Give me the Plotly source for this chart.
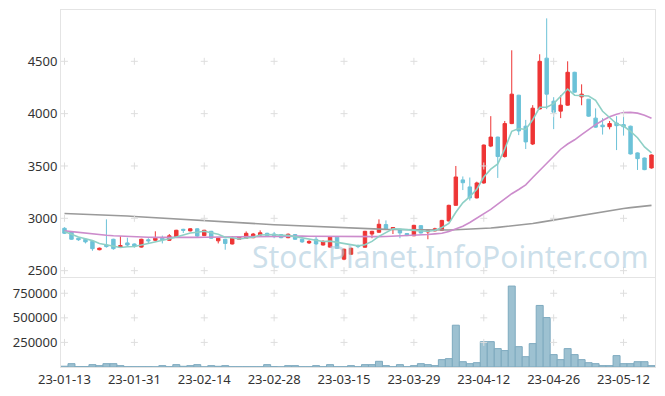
import plotly.graph_objects as go
from plotly.subplots import make_subplots

dates = [
    "23-01-13", "23-01-16", "23-01-17", "23-01-18", "23-01-19", "23-01-20", "23-01-25", "23-01-26", "23-01-27", "23-01-30",
    "23-01-31", "23-02-01", "23-02-02", "23-02-03", "23-02-06", "23-02-07", "23-02-08", "23-02-09", "23-02-10", "23-02-13",
    "23-02-14", "23-02-15", "23-02-16", "23-02-17", "23-02-20", "23-02-21", "23-02-22", "23-02-23", "23-02-24", "23-02-27",
    "23-02-28", "23-03-02", "23-03-03", "23-03-06", "23-03-07", "23-03-08", "23-03-09", "23-03-10", "23-03-13", "23-03-14",
    "23-03-15", "23-03-16", "23-03-17", "23-03-20", "23-03-21", "23-03-22", "23-03-23", "23-03-24", "23-03-27", "23-03-28",
    "23-03-29", "23-03-30", "23-03-31", "23-04-03", "23-04-04", "23-04-05", "23-04-06", "23-04-07", "23-04-10", "23-04-11",
    "23-04-12", "23-04-13", "23-04-14", "23-04-17", "23-04-18", "23-04-19", "23-04-20", "23-04-21", "23-04-24", "23-04-25",
    "23-04-26", "23-04-27", "23-04-28", "23-05-02", "23-05-03", "23-05-04", "23-05-08", "23-05-09", "23-05-10", "23-05-11",
    "23-05-12", "23-05-15", "23-05-16", "23-05-17", "23-05-18",
]

open_ = [
    2905, 2870, 2810, 2800, 2780, 2700, 2745, 2800, 2725, 2765,
    2755, 2725, 2795, 2790, 2810, 2790, 2820, 2895, 2880, 2900,
    2835, 2876, 2785, 2800, 2755, 2800, 2810, 2815, 2840, 2857,
    2850, 2845, 2815, 2845, 2800, 2765, 2800, 2745, 2725, 2820,
    2610, 2657, 2740, 2724, 2850, 2867, 2940, 2900, 2895, 2855,
    2833, 2930, 2870, 2880, 2886, 2975, 3124, 3367, 3300, 3195,
    3338, 3690, 3776, 3590, 3905, 4176, 3880, 3710, 4045, 4530,
    4119, 4024, 4081, 4395, 4160, 4138, 3957, 3890, 3875, 3910,
    3895, 3880, 3625, 3576, 3481,
]
high = [
    2915, 2875, 2815, 2805, 2785, 2720, 2990, 2805, 2830, 2815,
    2760, 2805, 2810, 2876, 2835, 2850, 2890, 2900, 2905, 2905,
    2890, 2880, 2815, 2805, 2830, 2825, 2875, 2860, 2885, 2862,
    2870, 2850, 2855, 2850, 2805, 2790, 2830, 2790, 2830, 2825,
    2710, 2720, 2750, 2880, 2880, 2990, 2980, 2915, 2900, 2860,
    2938, 2935, 2895, 2910, 2985, 3130, 3500, 3400, 3390, 3350,
    3705, 3976, 3780, 3930, 4605, 4180, 3940, 4081, 4567, 4910,
    4157, 4176, 4500, 4400, 4280, 4140, 4050, 3957, 3930, 3976,
    3976, 3885, 3630, 3580, 3610,
]
low = [
    2850, 2795, 2785, 2760, 2690, 2695, 2720, 2700, 2720, 2730,
    2720, 2720, 2760, 2785, 2760, 2785, 2815, 2860, 2875, 2820,
    2830, 2805, 2760, 2700, 2750, 2795, 2805, 2810, 2830, 2830,
    2810, 2810, 2810, 2795, 2765, 2755, 2745, 2740, 2720, 2710,
    2600, 2650, 2715, 2720, 2810, 2860, 2890, 2850, 2810, 2830,
    2830, 2855, 2800, 2875, 2880, 2970, 3120, 3270, 3170, 3190,
    3330, 3680, 3386, 3580, 3900, 3795, 3662, 3700, 4040, 4043,
    3852, 3957, 4075, 4200, 4080, 3970, 3865, 3800, 3850, 3652,
    3790, 3610, 3462, 3460, 3475,
]
close = [
    2857, 2800, 2795, 2775, 2710, 2715, 2730, 2710, 2740, 2745,
    2730, 2800, 2785, 2810, 2795, 2833, 2886, 2885, 2900, 2830,
    2886, 2810, 2810, 2760, 2810, 2820, 2857, 2850, 2862, 2835,
    2825, 2815, 2848, 2800, 2775, 2780, 2755, 2780, 2820, 2714,
    2705, 2714, 2730, 2876, 2876, 2943, 2895, 2912, 2860, 2835,
    2933, 2860, 2890, 2900, 2980, 3124, 3395, 3340, 3195, 3338,
    3700, 3776, 3590, 3905, 4186, 3835, 3730, 4052, 4500, 4186,
    4014, 4081, 4395, 4205, 4186, 3976, 3871, 3875, 3905, 3885,
    3875, 3615, 3570, 3465, 3605,
]

ma5 = [
    2875, 2845, 2822, 2805, 2787, 2759, 2745, 2728, 2721, 2728,
    2731, 2745, 2760, 2774, 2784, 2805, 2822, 2842, 2860, 2867,
    2877, 2862, 2847, 2819, 2815, 2802, 2811, 2819, 2840, 2845,
    2846, 2837, 2837, 2825, 2813, 2804, 2792, 2778, 2782, 2770,
    2755, 2747, 2737, 2748, 2780, 2828, 2864, 2900, 2897, 2889,
    2887, 2880, 2876, 2884, 2913, 2951, 3058, 3148, 3207, 3278,
    3394, 3470, 3520, 3662, 3831, 3858, 3849, 3942, 4061, 4061,
    4096, 4167, 4235, 4176, 4176, 4169, 4127, 4023, 3963, 3902,
    3882, 3831, 3770, 3682, 3626,
]
ma20 = [
    2880, 2872, 2864, 2857, 2850, 2844, 2838, 2833, 2829, 2826,
    2823, 2821, 2819, 2818, 2817, 2816, 2816, 2816, 2817, 2818,
    2819, 2820, 2821, 2822, 2823, 2824, 2826, 2828, 2830, 2831,
    2832, 2832, 2832, 2831, 2830, 2829, 2828, 2827, 2826, 2825,
    2824, 2823, 2822, 2822, 2823, 2825, 2827, 2829, 2831, 2833,
    2836, 2840, 2845, 2851, 2858, 2875, 2900, 2925, 2960, 3000,
    3040, 3085, 3135, 3185, 3235, 3275, 3320, 3390, 3460, 3530,
    3600, 3660, 3710, 3750, 3800, 3850, 3895, 3935, 3970, 3995,
    4010, 4012, 4005, 3985, 3955,
]
ma60 = [
    3046, 3044, 3042, 3040, 3038, 3035, 3032, 3029, 3026, 3022,
    3018, 3014, 3010, 3006, 3002, 2998, 2994, 2990, 2985, 2978,
    2972, 2968, 2964, 2960, 2957, 2954, 2951, 2948, 2945, 2942,
    2939, 2936, 2933, 2930, 2927, 2924, 2921, 2918, 2915, 2911,
    2907, 2904, 2902, 2900, 2898, 2896, 2894, 2893, 2892, 2891,
    2890, 2889, 2888, 2888, 2888, 2889, 2891, 2893, 2896, 2899,
    2903, 2908, 2914, 2920, 2927, 2934, 2942, 2951, 2961, 2972,
    2983, 2995, 3008, 3020, 3032, 3043, 3054, 3064, 3074, 3084,
    3094, 3102, 3110, 3117, 3124,
]
volume = [
    8000, 34000, 4000, 4000, 24000, 14000, 34000, 34000, 14000, 3000,
    3000, 3000, 3000, 2000, 14000, 3000, 24000, 7000, 14000, 24000,
    2000, 14000, 7000, 14000, 3000, 3000, 3000, 3000, 3000, 24000,
    4000, 2000, 14000, 14000, 3000, 3000, 14000, 3000, 24000, 3000,
    3000, 14000, 3000, 24000, 24000, 58000, 14000, 3000, 24000, 3000,
    14000, 34000, 24000, 14000, 75000, 85000, 425000, 54000, 34000, 44000,
    258000, 258000, 187000, 167000, 823000, 207000, 105000, 238000, 626000, 503000,
    126000, 75000, 187000, 126000, 75000, 44000, 34000, 14000, 14000, 116000,
    34000, 34000, 54000, 54000, 14000,
]

price_ticks = [2500, 3000, 3500, 4000, 4500]
vol_ticks = [250000, 500000, 750000]
x_ticks = dates[::10]

RED = "#ee3535"
BLUE = "#6cc2d8"
FONT = "Noto Sans"

fig = make_subplots(rows=2, cols=1, shared_xaxes=True, vertical_spacing=0.003,
                    row_heights=[0.75, 0.25])

fig.add_trace(go.Scatter(x=dates, y=ma60, mode="lines", hoverinfo="skip",
                         line=dict(color="#9a9a9a", width=1.6)), row=1, col=1)
fig.add_trace(go.Scatter(x=dates, y=ma20, mode="lines", hoverinfo="skip",
                         line=dict(color="#cc8ccc", width=1.6)), row=1, col=1)
fig.add_trace(go.Scatter(x=dates, y=ma5, mode="lines", hoverinfo="skip",
                         line=dict(color="#8ed0c6", width=1.6)), row=1, col=1)

fig.add_trace(go.Candlestick(
    x=dates, open=open_, high=high, low=low, close=close,
    increasing=dict(line=dict(color=RED, width=1), fillcolor=RED),
    decreasing=dict(line=dict(color=BLUE, width=1), fillcolor=BLUE),
    whiskerwidth=0,
), row=1, col=1)

fig.add_trace(go.Bar(x=dates, y=volume, width=1.0,
                     marker=dict(color="#9dc1d1", line=dict(color="#7eaabf", width=1))),
              row=2, col=1)

# grid "+" markers at tick intersections
gx = [d for d in x_ticks for _ in price_ticks]
gy = [v for _ in x_ticks for v in price_ticks]
fig.add_trace(go.Scatter(x=gx, y=gy, mode="markers", hoverinfo="skip",
                         marker=dict(symbol="cross-thin", size=5,
                                     line=dict(color="#dedede", width=1))),
              row=1, col=1)
vx = [d for d in x_ticks for _ in vol_ticks]
vy = [v for _ in x_ticks for v in vol_ticks]
fig.add_trace(go.Scatter(x=vx, y=vy, mode="markers", hoverinfo="skip",
                         marker=dict(symbol="cross-thin", size=5,
                                     line=dict(color="#dedede", width=1))),
              row=2, col=1)

fig.add_annotation(text="StockPlanet.InfoPointer.com", xref="paper", yref="paper",
                   x=0.655, y=0.31, xanchor="center", yanchor="middle", showarrow=False,
                   font=dict(family=FONT, size=30, color="rgba(170,202,220,0.6)"))

axis_common = dict(showgrid=False, zeroline=False, showline=True, linecolor="#e4e4e4",
                   linewidth=1, mirror=True, automargin=False,
                   tickfont=dict(family=FONT, size=13, color="#333"))

fig.update_xaxes(type="category", categoryorder="array", categoryarray=dates,
                 range=[-0.5, len(dates) - 0.5], tickvals=x_ticks, tickangle=0,
                 ticks="", rangeslider=dict(visible=False), **axis_common)
fig.update_xaxes(showticklabels=False, row=1, col=1)
fig.update_yaxes(range=[2440, 4990], tickvals=price_ticks, ticks="", row=1, col=1, **axis_common)
fig.update_yaxes(range=[0, 905000], tickvals=vol_ticks, tickformat="d", ticks="",
                 row=2, col=1, **axis_common)

fig.update_layout(width=665, height=396, margin=dict(l=61, r=10, t=10, b=29),
                  paper_bgcolor="white", plot_bgcolor="white", showlegend=False,
                  font=dict(family=FONT, size=13, color="#333"))

fig.write_html("out.html", config={"displayModeBar": False},
               post_script="document.body.style.margin='0';document.body.style.overflow='hidden';")
